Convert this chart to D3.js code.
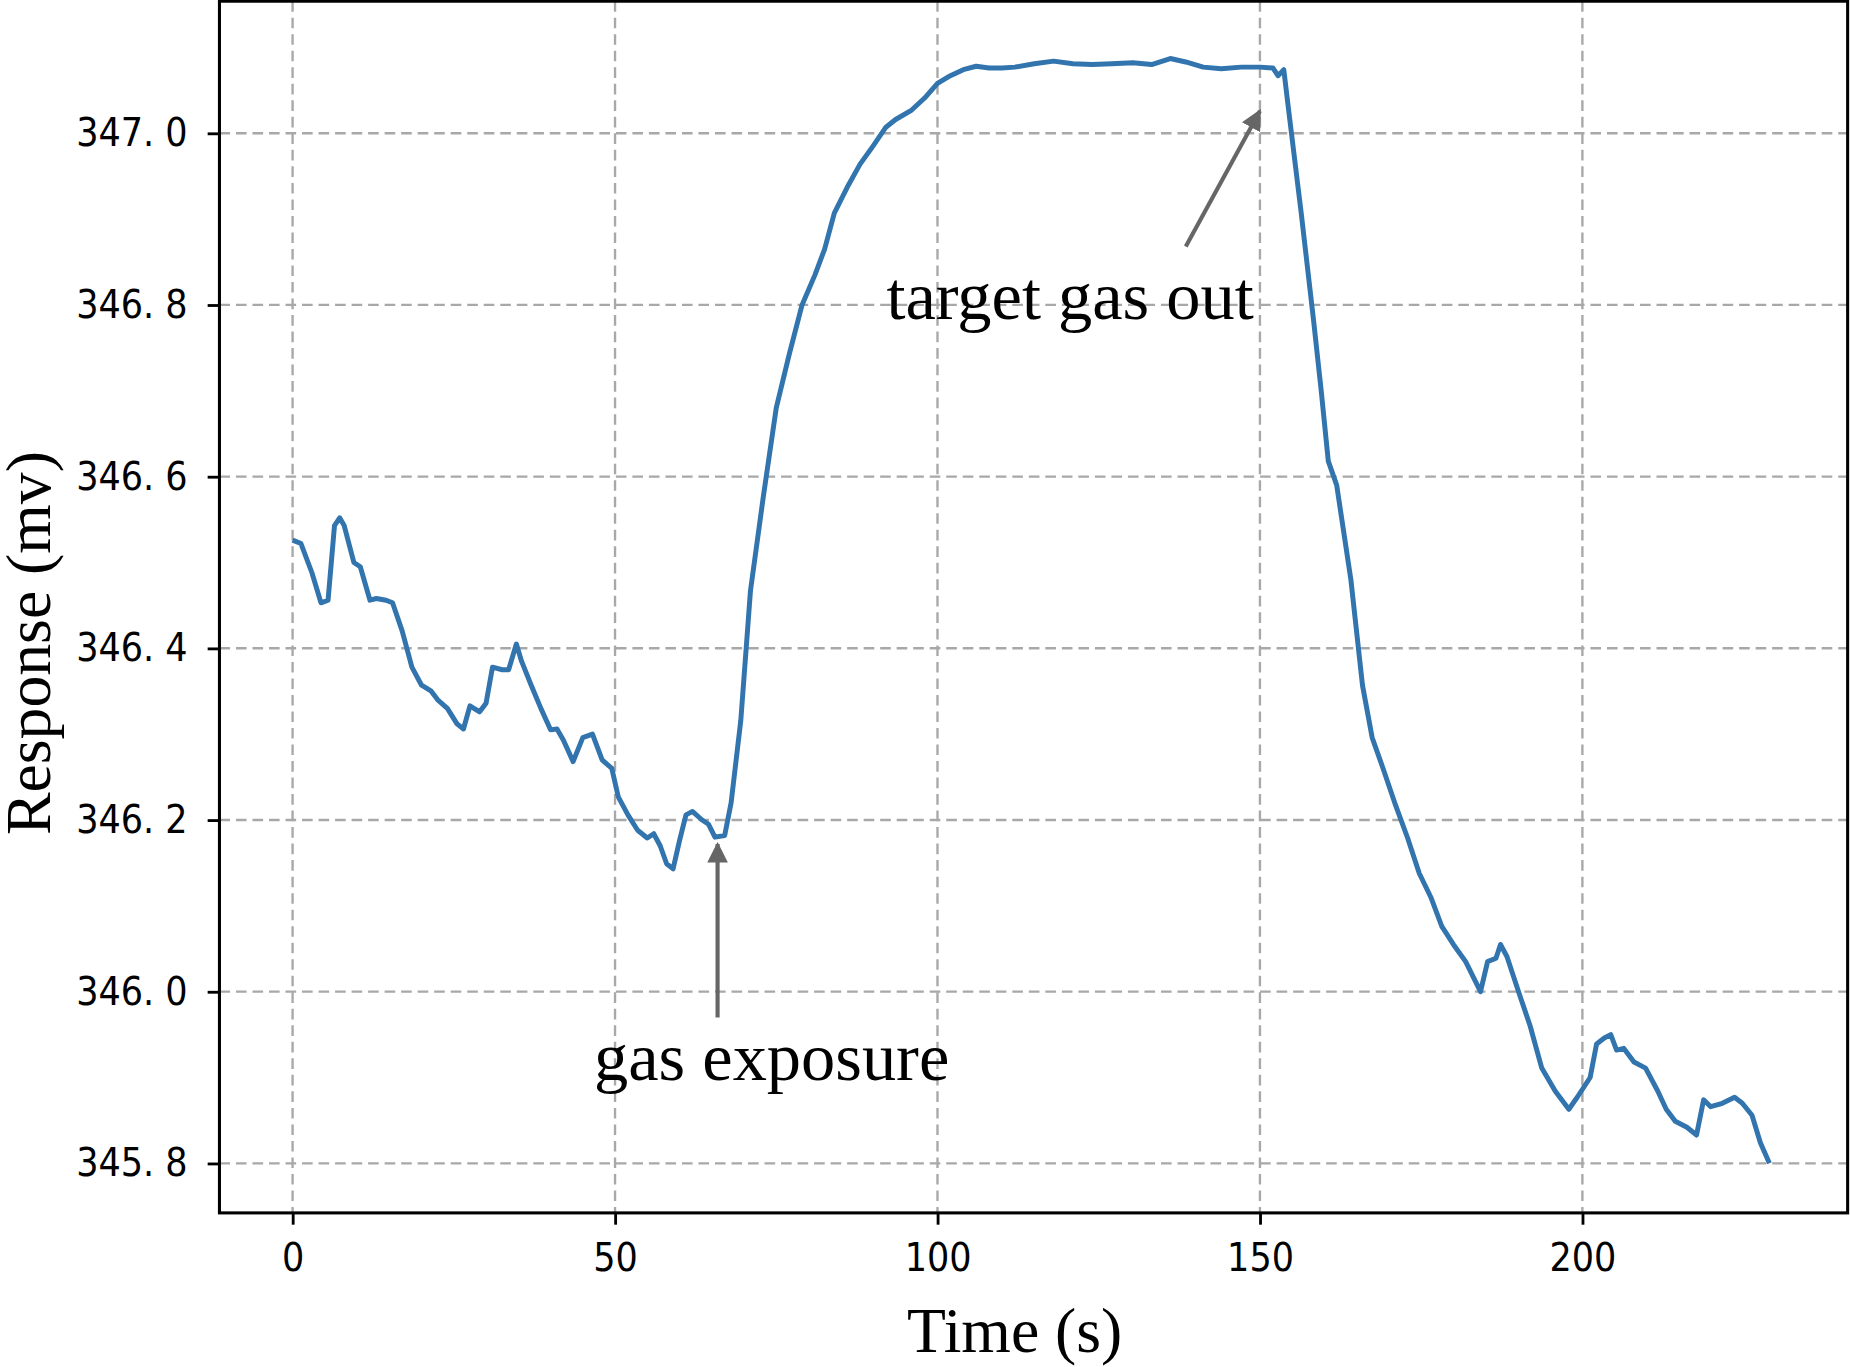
<!DOCTYPE html>
<html><head><meta charset="utf-8">
<script src="https://cdn.jsdelivr.net/npm/d3@7"></script>
<style>body{margin:0;background:#fff}</style></head>
<body><svg id="c" width="1850" height="1367" viewBox="0 0 1568 1158.6"></svg>
<script>
const time=[0,1.3,3,4.4,5.5,6.5,7.3,8,9.5,10.5,12,13,14.5,15.5,17,18.5,20,21.5,22.5,24,25.5,26.5,27.5,29,30,31,32.5,33.5,34.7,35.5,37,38.5,40,41,42,43.5,45,46.5,48,49.5,50.5,52,53.5,55,56,57,58,59,60,61,62,63.5,64.5,65.5,67,68,69.5,71,73,75,77,79,81,82.5,84,86,88,90,92,93.5,96,98,100,102,104,106,108,110,112,115,118,121,124,127,130.3,133.2,136.1,138.5,141.2,144,147.1,150,152,152.8,153.7,154.4,156.4,158.3,159.5,160.6,161.9,164.1,165.9,167.4,169,170.9,172.9,174.7,176.5,178.2,180,181.9,184.2,185.3,186.6,187.3,188.3,190.1,191.9,193.7,195.8,197.9,199.2,201.2,202.2,203.4,204.4,205.3,206.4,208,209.8,211.7,213,214.4,216.2,217.7,218.8,219.9,221.7,223.6,224.8,226.3,227.6,229];
const response=[346.526,346.522,346.488,346.453,346.456,346.543,346.552,346.543,346.50,346.495,346.456,346.458,346.456,346.453,346.42,346.378,346.357,346.350,346.34,346.33,346.312,346.306,346.333,346.326,346.336,346.378,346.375,346.375,346.405,346.385,346.357,346.330,346.305,346.306,346.293,346.268,346.296,346.30,346.27,346.26,346.227,346.206,346.188,346.179,346.184,346.17,346.149,346.143,346.176,346.206,346.21,346.20,346.195,346.18,346.182,346.22,346.316,346.467,346.577,346.68,346.742,346.80,346.835,346.865,346.907,346.937,346.964,346.985,347.007,347.016,347.027,347.041,347.058,347.067,347.074,347.078,347.076,347.076,347.077,347.081,347.084,347.081,347.080,347.081,347.082,347.080,347.087,347.083,347.077,347.075,347.077,347.077,347.076,347.067,347.074,347.03,346.907,346.783,346.70,346.618,346.59,346.48,346.357,346.296,346.262,346.22,346.179,346.138,346.110,346.076,346.055,346.035,346.0,346.035,346.039,346.055,346.041,346.0,345.96,345.911,345.884,345.863,345.877,345.90,345.939,345.946,345.95,345.932,345.934,345.918,345.911,345.884,345.863,345.849,345.842,345.833,345.874,345.866,345.870,345.877,345.870,345.856,345.824,345.80];
const xTicks=[0,50,100,150,200];
const yTicks=[345.8,346.0,346.2,346.4,346.6,346.8,347.0];

const svg=d3.select("#c");
const L=186,R=1566,T=1,B=1028;
const x=d3.scaleLinear().domain([-11.34,241.13]).range([L,R]);
const y=d3.scaleLinear().domain([345.7423,347.1538]).range([B,T]);
const g=svg.append("g");
g.selectAll(".vg").data(xTicks).join("line").attr("x1",d=>x(d)).attr("x2",d=>x(d)).attr("y1",T).attr("y2",B)
 .attr("stroke","#a8a8a8").attr("stroke-width",2).attr("stroke-dasharray","9,5");
g.selectAll(".hg").data(yTicks).join("line").attr("y1",d=>y(d)).attr("y2",d=>y(d)).attr("x1",L).attr("x2",R)
 .attr("stroke","#a8a8a8").attr("stroke-width",2).attr("stroke-dasharray","9,5");
const line=d3.line().x((d,i)=>x(time[i])).y(d=>y(d));
svg.append("path").datum(response).attr("d",line).attr("fill","none").attr("stroke","#3274ad").attr("stroke-width",4.2).attr("stroke-linejoin","round");
svg.append("rect").attr("x",L).attr("y",T).attr("width",R-L).attr("height",B-T).attr("fill","none").attr("stroke","#000").attr("stroke-width",2.6);
const font="'DejaVu Sans Condensed', 'Noto Sans', sans-serif";
const xa=svg.append("g").attr("transform",`translate(0,${B})`).call(d3.axisBottom(x).tickValues(xTicks).tickSize(10).tickPadding(16).tickFormat(d3.format("d")));
const ya=svg.append("g").attr("transform",`translate(${L},0)`).call(d3.axisLeft(y).tickValues(yTicks).tickSize(10).tickPadding(17).tickFormat(d=>d3.format(".1f")(d).replace(".",". ")));
[xa,ya].forEach(a=>{a.select(".domain").remove();a.selectAll("line").attr("stroke","#000").attr("stroke-width",2.4);
 a.selectAll("text").attr("font-family",font).attr("font-size",33).attr("fill","#000");});
const serif="'Liberation Serif', serif";
svg.append("text").attr("x",860).attr("y",1146).attr("text-anchor","middle").attr("font-family",serif).attr("font-size",54).text("Time (s)");
svg.append("text").attr("transform","translate(42,545) rotate(-90)").attr("text-anchor","middle").attr("font-family",serif).attr("font-size",54).text("Response (mv)");
const defs=svg.append("defs");
defs.append("marker").attr("id","ah").attr("viewBox","0 0 10 10").attr("refX",9).attr("refY",5).attr("markerWidth",5).attr("markerHeight",5).attr("markerUnits","strokeWidth").attr("orient","auto")
 .append("path").attr("d","M0,0 L10,5 L0,10 Z").attr("fill","#666");
function arrow(t0,v0,t1,v1){svg.append("line").attr("x1",x(t0)).attr("y1",y(v0)).attr("x2",x(t1)).attr("y2",y(v1)).attr("stroke","#666").attr("stroke-width",3.5).attr("marker-end","url(#ah)");}
arrow(138.5,346.868,150,347.026);
arrow(65.9,345.97,65.9,346.172);
svg.append("text").attr("x",907).attr("y",270).attr("text-anchor","middle").attr("font-family",serif).attr("font-size",58).text("target gas out");
svg.append("text").attr("x",654).attr("y",915).attr("text-anchor","middle").attr("font-family",serif).attr("font-size",58).text("gas exposure");
</script></body></html>
